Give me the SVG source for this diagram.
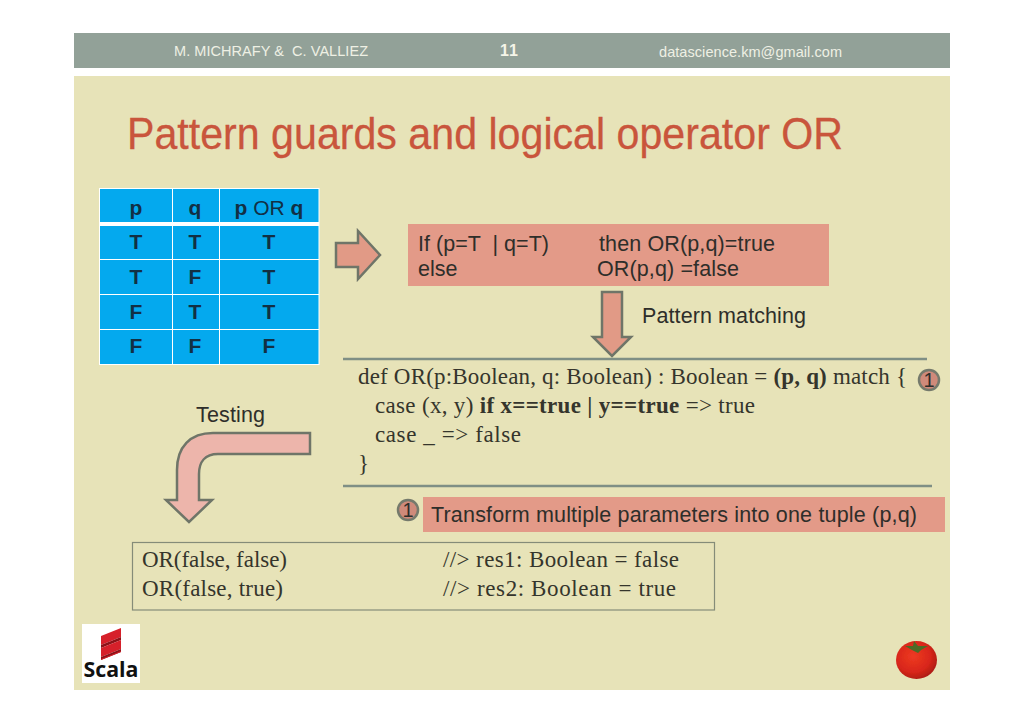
<svg xmlns="http://www.w3.org/2000/svg" width="1024" height="724" viewBox="0 0 1024 724">
<defs>
<radialGradient id="tom" cx="0.42" cy="0.4" r="0.65"><stop offset="0" stop-color="#ee3a22"/><stop offset="0.65" stop-color="#d8261a"/><stop offset="1" stop-color="#a81c14"/></radialGradient>
<filter id="soft" x="-10%" y="-10%" width="120%" height="120%"><feGaussianBlur stdDeviation="0.6"/></filter>
</defs>
<style>
text{white-space:pre}
.s{font-family:"Liberation Sans",Arial,sans-serif;fill:#2e2e2a}
.r{font-family:"Liberation Serif","Times New Roman",serif;font-size:23px;fill:#35352c}
.b{font-weight:bold}
.h{font-size:14.500px;fill:#eef0e4}
.t{font-size:21px;font-weight:bold;text-anchor:middle;fill:#123044}
.p{font-size:21.500px}
.ar{stroke:#6f7568;stroke-width:2.500;stroke-linejoin:miter}
.ln{stroke:#7f8f85;stroke-width:2.500;fill:none}
.c{fill:#cf8a7a;stroke:#757a6c;stroke-width:2.500}
.n{font-size:20px;text-anchor:middle}
.cell{fill:#04a9ee}
</style>
<rect width="1024" height="724" fill="#fff"/>
<rect x="74" y="76" width="876" height="614" fill="#e7e3b8"/>
<g id="header">
<rect x="74" y="33" width="876" height="35" fill="#92a198"/>
<text class="s h" x="174" y="56" textLength="194">M. MICHRAFY &amp;  C. VALLIEZ</text>
<text class="s b" x="500" y="56" font-size="16" style="fill:#f5f5e8" textLength="18">11</text>
<text class="s h" x="659" y="57" textLength="183">datascience.km@gmail.com</text>
</g>
<text id="title" class="s" x="127" y="149" font-size="45" style="fill:#c9553c" stroke="#c9553c" stroke-width="0.300" textLength="716" lengthAdjust="spacingAndGlyphs">Pattern guards and logical operator OR</text>
<g id="truth-table">
<rect x="99" y="188" width="220.500" height="177" fill="#fff"/>
<rect class="cell" x="100" y="189" width="72" height="33"/><rect class="cell" x="173" y="189" width="46" height="33"/><rect class="cell" x="220" y="189" width="98.500" height="33"/>
<rect class="cell" x="100" y="226" width="72" height="33"/><rect class="cell" x="173" y="226" width="46" height="33"/><rect class="cell" x="220" y="226" width="98.500" height="33"/>
<rect class="cell" x="100" y="260" width="72" height="34"/><rect class="cell" x="173" y="260" width="46" height="34"/><rect class="cell" x="220" y="260" width="98.500" height="34"/>
<rect class="cell" x="100" y="295" width="72" height="34"/><rect class="cell" x="173" y="295" width="46" height="34"/><rect class="cell" x="220" y="295" width="98.500" height="34"/>
<rect class="cell" x="100" y="330" width="72" height="34"/><rect class="cell" x="173" y="330" width="46" height="34"/><rect class="cell" x="220" y="330" width="98.500" height="34"/>
<text class="s t" x="136" y="215">p</text><text class="s t" x="195" y="215">q</text>
<text class="s t" x="269" y="215">p <tspan font-weight="normal">OR</tspan> q</text>
<text class="s t" x="136" y="249">T</text><text class="s t" x="195" y="249">T</text><text class="s t" x="269" y="249">T</text>
<text class="s t" x="136" y="284">T</text><text class="s t" x="195" y="284">F</text><text class="s t" x="269" y="284">T</text>
<text class="s t" x="136" y="319">F</text><text class="s t" x="195" y="319">T</text><text class="s t" x="269" y="319">T</text>
<text class="s t" x="136" y="353">F</text><text class="s t" x="195" y="353">F</text><text class="s t" x="269" y="353">F</text>
</g>
<g id="connectors">
<path class="ar" fill="#e19a86" d="M336 243H358V231L380 255L358 279V267H336Z"/>
<path class="ar" fill="#e19a86" d="M602 292H622V337H631L612 356L593 337H602Z"/>
<path class="ar" fill="#edb5ab" d="M310 433H213C190 433 177 447 177 470V500H166L189 522L212 500H199V474C199 462 205 454 218 454H310Z"/>
</g>
<g id="condition-box">
<rect x="408" y="224" width="421" height="62" fill="#e39a88"/>
<text class="s p" x="418" y="251" textLength="131">If (p=T  | q=T)</text><text class="s p" x="599" y="251" textLength="176">then OR(p,q)=true</text>
<text class="s p" x="418" y="276">else</text><text class="s p" x="597" y="276" textLength="142">OR(p,q) =false</text>
</g>
<text id="pattern-matching" class="s p" x="642" y="323" textLength="164">Pattern matching</text>
<text id="testing" class="s p" x="196" y="422" textLength="69">Testing</text>
<g id="code-block">
<path class="ln" d="M343 359H927M343 486H932"/>
<text class="r" x="358" y="384" textLength="549">def OR(p:Boolean, q: Boolean) : Boolean = <tspan class="b">(p, q)</tspan> match {</text>
<text class="r" x="375" y="413" textLength="380">case (x, y) <tspan class="b">if x==true | y==true</tspan> =&gt; true</text>
<text class="r" x="375" y="442" textLength="146">case _ =&gt; false</text>
<text class="r" x="358" y="471">}</text>
</g>
<g id="badge-1"><circle class="c" cx="929" cy="380" r="10"/><text class="s n" x="929" y="387">1</text></g>
<g id="note">
<rect x="423" y="497" width="522" height="35" fill="#e39a88"/>
<text class="s p" x="431" y="522" textLength="486">Transform multiple parameters into one tuple (p,q)</text>
</g>
<g id="badge-2"><circle class="c" cx="408" cy="510" r="10"/><text class="s n" x="408" y="517">1</text></g>
<g id="test-box">
<rect x="132.500" y="542.500" width="582" height="67.500" fill="none" stroke="#858c78" stroke-width="1.200"/>
<text class="r" x="142" y="567" textLength="145">OR(false, false)</text>
<text class="r" x="443" y="567" textLength="236">//&gt; res1: Boolean = false</text>
<text class="r" x="142" y="596" textLength="141">OR(false, true)</text>
<text class="r" x="443" y="596" textLength="233">//&gt; res2: Boolean = true</text>
</g>
<g id="scala-logo">
<rect x="82" y="624" width="58" height="59" fill="#fff"/>
<path fill="#d6202a" d="M101 636L121 628V637L101 645Z"/><path fill="#8c1218" d="M101 645L121 637V640L101 648Z"/>
<path fill="#d6202a" d="M101 648L121 640V649L101 657Z"/><path fill="#8c1218" d="M101 657L121 649V652L101 660Z"/>
<path fill="#d6202a" d="M101 659L121 651V652L101 660Z"/>
<text x="111" y="677" font-family="'Open Sans',sans-serif" font-weight="bold" font-size="22" text-anchor="middle" fill="#111" textLength="55" lengthAdjust="spacingAndGlyphs">Scala</text>
</g>
<g id="tomato">
<ellipse cx="916.500" cy="660" rx="20.500" ry="19" fill="url(#tom)" filter="url(#soft)"/>
<path fill="#4c6a26" d="M905 646L913 646L914 641L918 646L928 646L921 650L918 653L912 650Z"/>
</g>
</svg>
